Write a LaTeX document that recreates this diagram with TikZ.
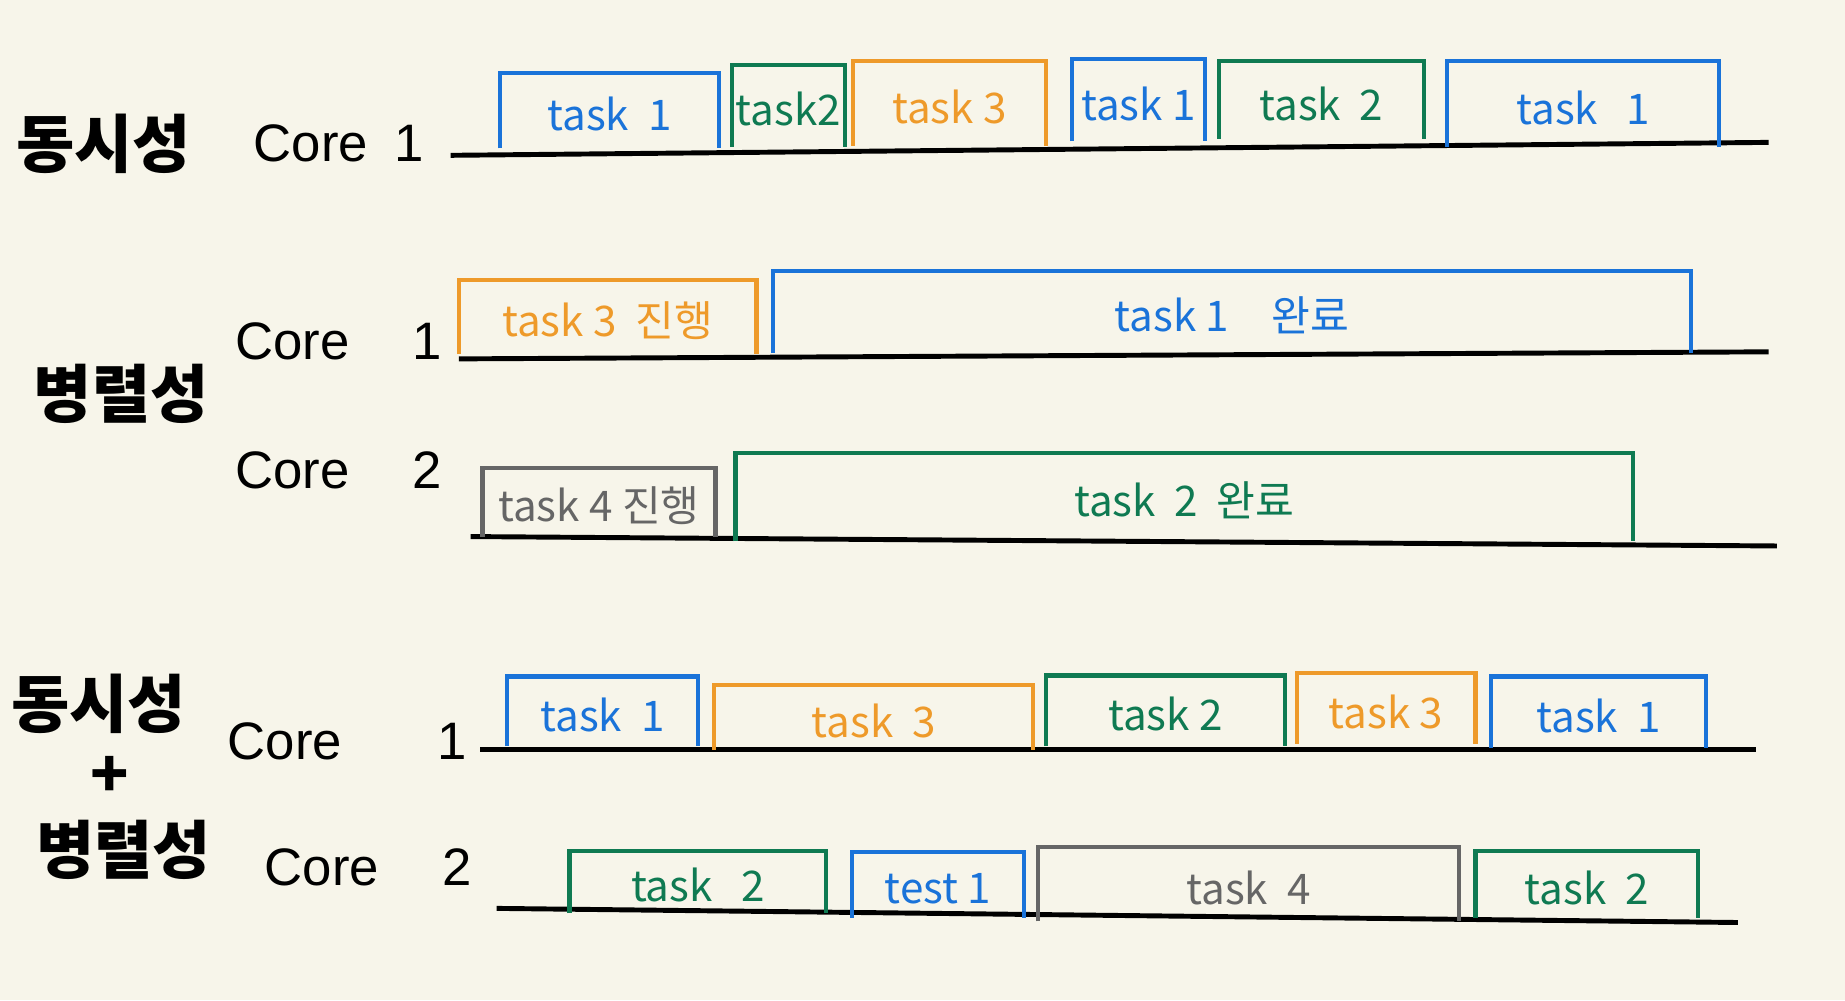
\documentclass[tikz,border=0pt]{standalone}
\usepackage{fontspec}
\setmainfont{Liberation Sans}
\newfontfamily\kor{Noto Sans CJK KR}
\usepackage{xcolor}
\definecolor{paper}{HTML}{F7F5EA}
\definecolor{cBlue}{HTML}{1A73D9}
\definecolor{cGreen}{HTML}{0F7A52}
\definecolor{cOrange}{HTML}{EE9A2A}
\definecolor{cGray}{HTML}{666666}
\tikzset{
  slot/.style={line width=1.2pt},
  axis/.style={line width=1.4pt,black},
  tasklabel/.style={font=\kor\fontsize{12}{12}\selectfont},
  corelabel/.style={font=\fontsize{15}{15}\selectfont,anchor=center},
  headlabel/.style={font=\kor\bfseries\fontsize{18}{18}\selectfont}
}
\begin{document}
\begin{tikzpicture}[x=0.011767cm,y=-0.011767cm]
    \useasboundingbox (0,0) rectangle (1568,850);
    \fill[paper] (0,0) rectangle (1568,850);

    % Zeitachsen
    \coordinate (a1s) at (383,132); \coordinate (a1e) at (1503,121);
    \coordinate (a2s) at (390,305); \coordinate (a2e) at (1503,299);
    \coordinate (a3s) at (400,456); \coordinate (a3e) at (1510,464);
    \coordinate (a4s) at (408,637); \coordinate (a4e) at (1492,637);
    \coordinate (a5s) at (422,772); \coordinate (a5e) at (1477,784);
    \foreach \n in {1,...,5}
      \draw[axis] (a\n s) -- (a\n e);

    % Ueberschriften
    \node[headlabel] (h1) at (88,122) {동시성};
    \node[headlabel] (h2) at (103,335) {병렬성};
    \node[headlabel] (h3) at (84,598) {동시성};
    \node[headlabel] (h4) at (93,660) {+};
    \node[headlabel] (h5) at (105,722) {병렬성};

    % Kerne
    \node[corelabel] (c1) at (288,122) {Core\hspace{0.5em}1};
    \node[corelabel] (c2) at (288,290) {Core\hspace{1.2em}1};
    \node[corelabel] (c3) at (288,400) {Core\hspace{1.2em}2};
    \node[corelabel] (c4) at (295,630) {Core\hspace{1.8em}1};
    \node[corelabel] (c5) at (313,737) {Core\hspace{1.2em}2};

    % Aufgaben: x1/x2/top/base/colour/text
    \foreach \xa/\xb/\yt/\yb/\col/\txt [count=\i] in {
      425/611/62/126/cBlue/{task\ \ 1},
      622/718/55/125/cGreen/{task2},
      725/889/52/124/cOrange/{task 3},
      911/1024/50/120/cBlue/{task 1},
      1036/1210/52/118/cGreen/{task\ \ 2},
      1230/1461/52/125/cBlue/{task\ \ \ 1},
      390/643/238/301/cOrange/{task 3\ \ 진행},
      657/1437/230/300/cBlue/{task 1\quad 완료},
      410/608/398/456/cGray/{task 4\ 진행},
      625/1388/385/460/cGreen/{task\ \ 2\ \ 완료},
      431/593/575/634/cBlue/{task\ \ 1},
      607/878/582/637/cOrange/{task\ \ 3},
      889/1092/574/634/cGreen/{task 2},
      1102/1254/572/632/cOrange/{task 3},
      1267/1450/575/636/cBlue/{task\ \ 1},
      484/702/723/776/cGreen/{task\ \ \ 2},
      724/870/724/780/cBlue/{test 1},
      882/1240/720/783/cGray/{task\ \ 4},
      1254/1443/723/780/cGreen/{task\ \ 2}} {
      \draw[slot,\col] (\xa,\yb) -- (\xa,\yt) -- (\xb,\yt) -- (\xb,\yb);
      \node[tasklabel,text=\col] (t\i) at ({(\xa+\xb)/2},{(\yt+\yb)/2+3}) {\txt};
    }
\end{tikzpicture}
\end{document}
